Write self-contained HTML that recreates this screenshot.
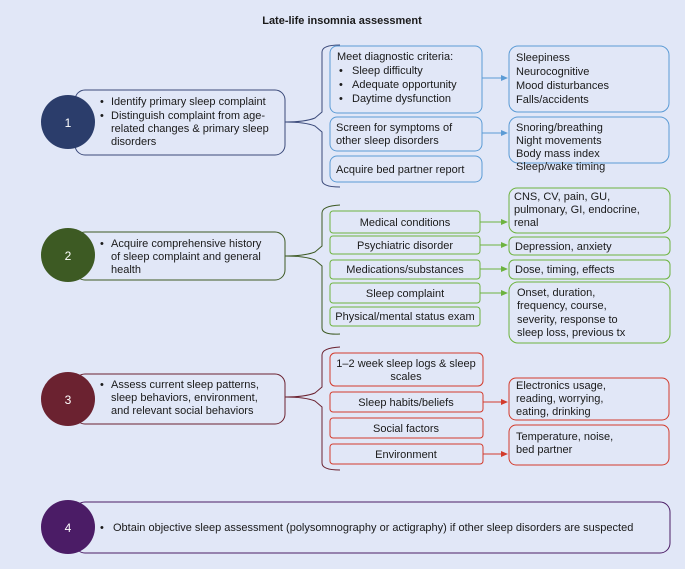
<!DOCTYPE html>
<html><head><meta charset="utf-8"><style>
html,body{margin:0;padding:0;background:#e1e7f7;}
svg{display:block;font-family:"Liberation Sans",sans-serif;font-size:11px;fill:#1a1a1a;}
</style></head><body>
<svg width="685" height="569" viewBox="0 0 685 569" xmlns="http://www.w3.org/2000/svg">
<rect width="685" height="569" fill="#e1e7f7"/>
<text x="342" y="24" text-anchor="middle" font-weight="bold" font-size="11">Late-life insomnia assessment</text>
<defs>
<marker id="ab" markerWidth="7" markerHeight="6" refX="6" refY="3" orient="auto"><path d="M0,0L7,3L0,6z" fill="#5b9bd5"/></marker>
<marker id="ag" markerWidth="7" markerHeight="6" refX="6" refY="3" orient="auto"><path d="M0,0L7,3L0,6z" fill="#6db33f"/></marker>
<marker id="ar" markerWidth="7" markerHeight="6" refX="6" refY="3" orient="auto"><path d="M0,0L7,3L0,6z" fill="#d33b2c"/></marker>
</defs>

<!-- ROW 1 -->
<rect x="75" y="90" width="210" height="65" rx="10" fill="#e1e7f7" stroke="#3b4a7a"/>
<circle cx="68" cy="122" r="27" fill="#2b3d6b"/>
<text x="68" y="127" text-anchor="middle" fill="#fff" font-size="12">1</text>
<text x="100" y="105">•</text><text x="111" y="105">Identify primary sleep complaint</text>
<text x="100" y="119">•</text><text x="111" y="119">Distinguish complaint from age-</text>
<text x="111" y="132">related changes &amp; primary sleep</text>
<text x="111" y="145">disorders</text>
<path d="M285,122 Q305,122 315,118 L322,112 L322,52 Q322,45 340,45 M285,122 Q305,122 315,126 L322,132 L322,180 Q322,187 340,187" fill="none" stroke="#3b4a7a"/>
<g fill="#e1e7f7" stroke="#5b9bd5">
<rect x="330" y="46" width="152" height="67" rx="7"/>
<rect x="330" y="117" width="152" height="34" rx="7"/>
<rect x="330" y="156" width="152" height="26" rx="7"/>
<rect x="509" y="46" width="160" height="66" rx="9"/>
<rect x="509" y="117" width="160" height="46" rx="9"/>
</g>
<text x="337" y="60">Meet diagnostic criteria:</text>
<text x="339" y="74">•</text><text x="352" y="74">Sleep difficulty</text>
<text x="339" y="88">•</text><text x="352" y="88">Adequate opportunity</text>
<text x="339" y="102">•</text><text x="352" y="102">Daytime dysfunction</text>
<text x="336" y="131">Screen for symptoms of</text>
<text x="336" y="144">other sleep disorders</text>
<text x="336" y="173">Acquire bed partner report</text>
<text x="516" y="61">Sleepiness</text><text x="516" y="75">Neurocognitive</text><text x="516" y="89">Mood disturbances</text><text x="516" y="103">Falls/accidents</text>
<text x="516" y="131">Snoring/breathing</text><text x="516" y="144">Night movements</text><text x="516" y="157">Body mass index</text><text x="516" y="170">Sleep/wake timing</text>
<line x1="482" y1="78" x2="507" y2="78" stroke="#5b9bd5" marker-end="url(#ab)"/>
<line x1="482" y1="133" x2="507" y2="133" stroke="#5b9bd5" marker-end="url(#ab)"/>

<!-- ROW 2 -->
<rect x="75" y="232" width="210" height="48" rx="10" fill="#e1e7f7" stroke="#3d5a23"/>
<circle cx="68" cy="255" r="27" fill="#3d5a23"/>
<text x="68" y="260" text-anchor="middle" fill="#fff" font-size="12">2</text>
<text x="100" y="247">•</text><text x="111" y="247">Acquire comprehensive history</text>
<text x="111" y="260">of sleep complaint and general</text>
<text x="111" y="273">health</text>
<path d="M285,256 Q305,256 315,252 L322,246 L322,213 Q322,206 340,205 M285,256 Q305,256 315,260 L322,266 L322,328 Q322,335 340,334" fill="none" stroke="#3d5a23"/>
<g fill="#e1e7f7" stroke="#6db33f">
<rect x="330" y="211" width="150" height="22" rx="3"/>
<rect x="330" y="236" width="150" height="18" rx="3"/>
<rect x="330" y="260" width="150" height="19" rx="3"/>
<rect x="330" y="283" width="150" height="20" rx="3"/>
<rect x="330" y="307" width="150" height="19" rx="3"/>
<rect x="509" y="188" width="161" height="45" rx="8"/>
<rect x="509" y="237" width="161" height="18" rx="5"/>
<rect x="509" y="260" width="161" height="19" rx="5"/>
<rect x="509" y="282" width="161" height="61" rx="9"/>
</g>
<g text-anchor="middle">
<text x="405" y="226">Medical conditions</text>
<text x="405" y="249">Psychiatric disorder</text>
<text x="405" y="273">Medications/substances</text>
<text x="405" y="297">Sleep complaint</text>
<text x="405" y="320">Physical/mental status exam</text>
</g>
<text x="514" y="200">CNS, CV, pain, GU,</text><text x="514" y="213">pulmonary, GI, endocrine,</text><text x="514" y="226">renal</text>
<text x="515" y="250">Depression, anxiety</text>
<text x="515" y="273">Dose, timing, effects</text>
<text x="517" y="296">Onset, duration,</text><text x="517" y="309">frequency, course,</text><text x="517" y="323">severity, response to</text><text x="517" y="336">sleep loss, previous tx</text>
<g stroke="#6db33f"><line x1="480" y1="222" x2="507" y2="222" marker-end="url(#ag)"/><line x1="480" y1="245" x2="507" y2="245" marker-end="url(#ag)"/><line x1="480" y1="269" x2="507" y2="269" marker-end="url(#ag)"/><line x1="480" y1="293" x2="507" y2="293" marker-end="url(#ag)"/></g>

<!-- ROW 3 -->
<rect x="75" y="374" width="210" height="50" rx="10" fill="#e1e7f7" stroke="#6b2230"/>
<circle cx="68" cy="399" r="27" fill="#6b2230"/>
<text x="68" y="404" text-anchor="middle" fill="#fff" font-size="12">3</text>
<text x="100" y="388">•</text><text x="111" y="388">Assess current sleep patterns,</text>
<text x="111" y="401">sleep behaviors, environment,</text>
<text x="111" y="414">and relevant social behaviors</text>
<path d="M285,397 Q305,397 315,393 L322,387 L322,355 Q322,348 340,347 M285,397 Q305,397 315,401 L322,407 L322,463 Q322,470 340,470" fill="none" stroke="#6b2230"/>
<g fill="#e1e7f7" stroke="#d33b2c">
<rect x="330" y="353" width="153" height="33" rx="5"/>
<rect x="330" y="392" width="153" height="20" rx="3"/>
<rect x="330" y="418" width="153" height="20" rx="3"/>
<rect x="330" y="444" width="153" height="20" rx="3"/>
<rect x="509" y="378" width="160" height="42" rx="7"/>
<rect x="509" y="425" width="160" height="40" rx="7"/>
</g>
<g text-anchor="middle">
<text x="406" y="367">1–2 week sleep logs &amp; sleep</text>
<text x="406" y="380">scales</text>
<text x="406" y="406">Sleep habits/beliefs</text>
<text x="406" y="432">Social factors</text>
<text x="406" y="458">Environment</text>
</g>
<text x="516" y="389">Electronics usage,</text><text x="516" y="402">reading, worrying,</text><text x="516" y="415">eating, drinking</text>
<text x="516" y="440">Temperature, noise,</text><text x="516" y="453">bed partner</text>
<g stroke="#d33b2c"><line x1="483" y1="402" x2="507" y2="402" marker-end="url(#ar)"/><line x1="483" y1="454" x2="507" y2="454" marker-end="url(#ar)"/></g>

<!-- ROW 4 -->
<rect x="75" y="502" width="595" height="51" rx="10" fill="#e1e7f7" stroke="#4b1c66"/>
<circle cx="68" cy="527" r="27" fill="#4b1c66"/>
<text x="68" y="532" text-anchor="middle" fill="#fff" font-size="12">4</text>
<text x="100" y="531">•</text><text x="113" y="531">Obtain objective sleep assessment (polysomnography or actigraphy) if other sleep disorders are suspected</text>
</svg>
</body></html>
